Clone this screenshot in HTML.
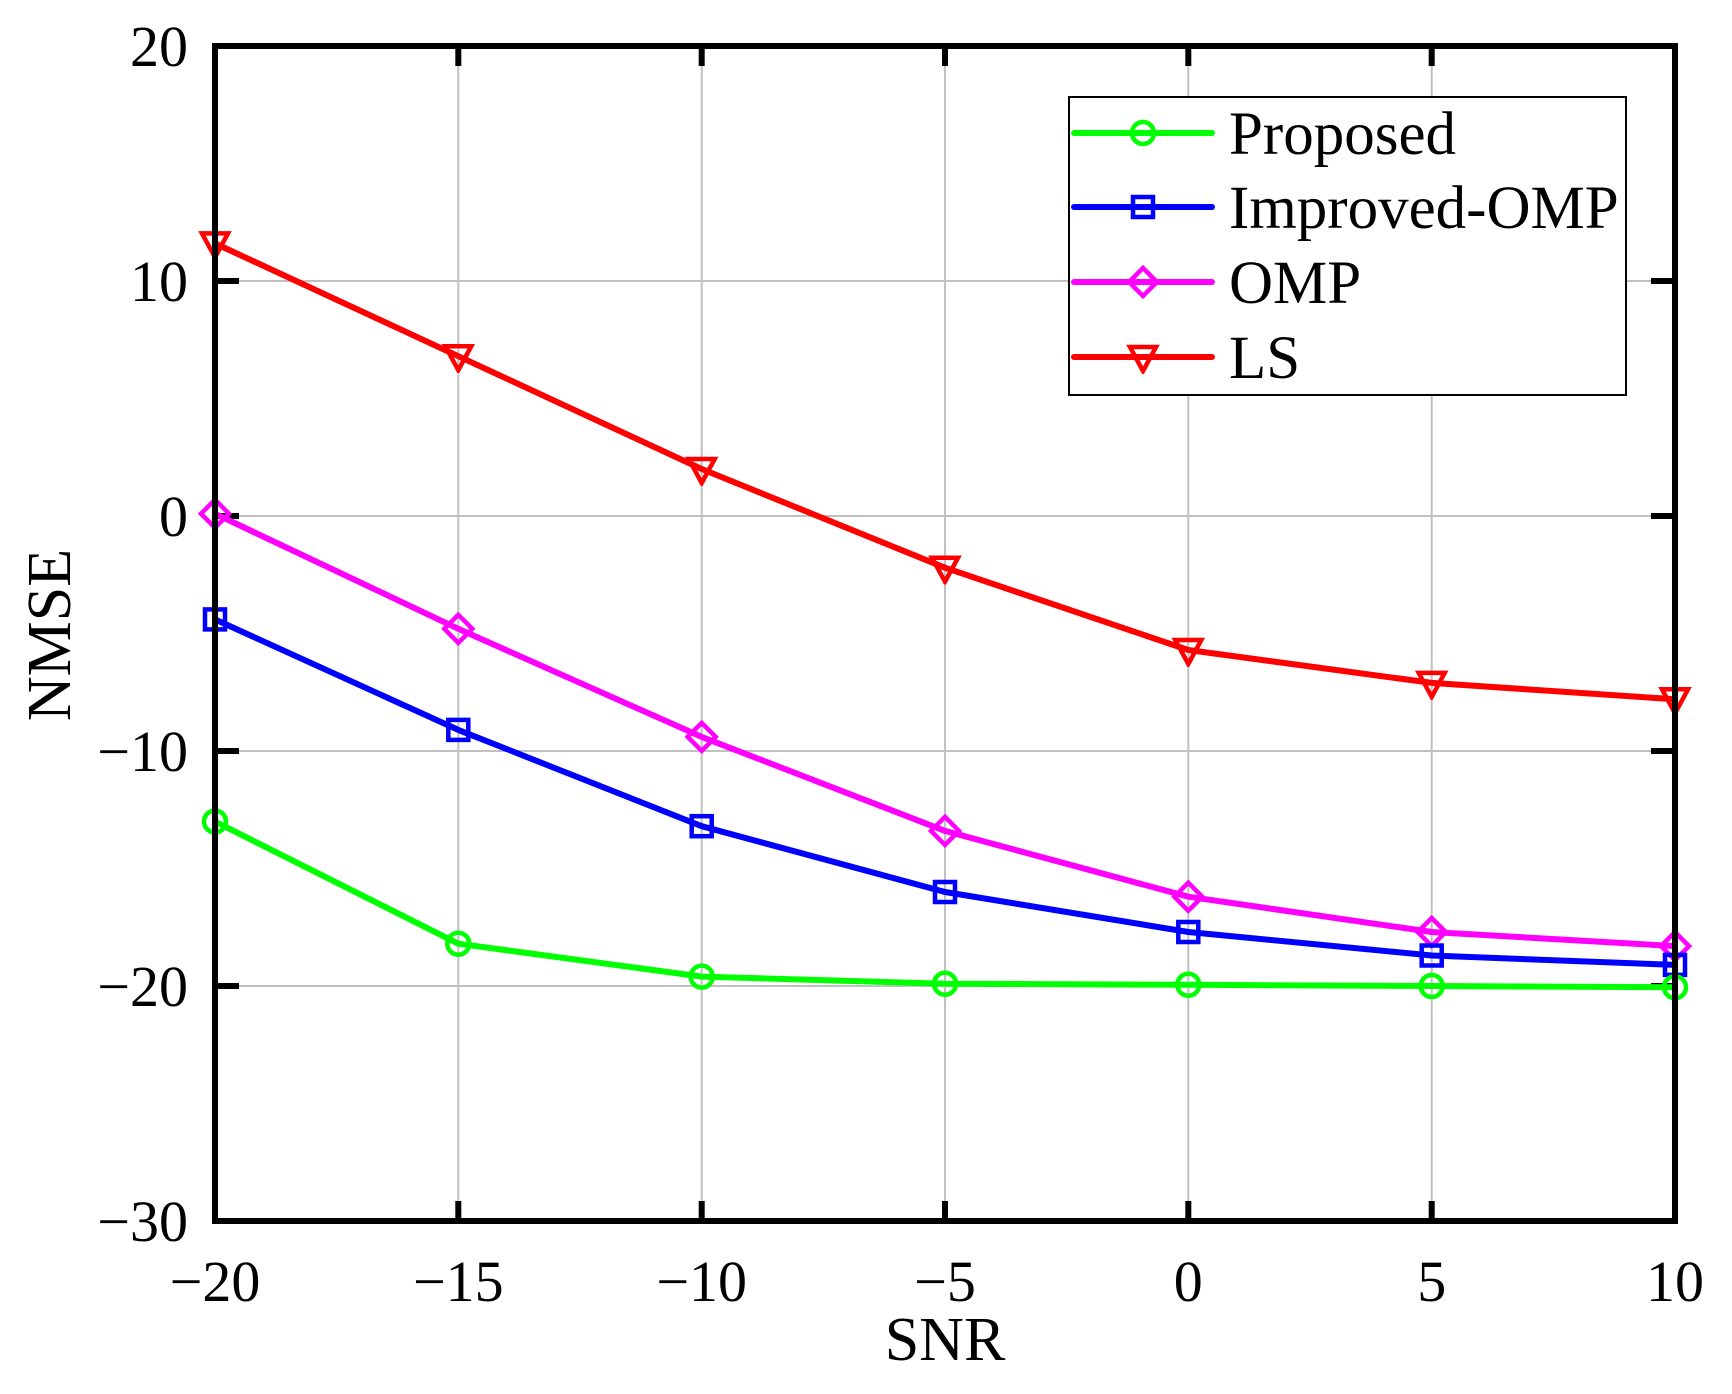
<!DOCTYPE html><html><head><style>body{margin:0;background:#fff}svg{display:block}text{font-family:"Liberation Serif",serif;fill:#000}</style></head><body>
<svg width="1732" height="1394" viewBox="0 0 1732 1394" xmlns="http://www.w3.org/2000/svg">
<g stroke="#c0c0c0" stroke-width="2">
<line x1="458.3" y1="46" x2="458.3" y2="1221"/><line x1="701.7" y1="46" x2="701.7" y2="1221"/><line x1="945" y1="46" x2="945" y2="1221"/><line x1="1188.3" y1="46" x2="1188.3" y2="1221"/><line x1="1431.7" y1="46" x2="1431.7" y2="1221"/>
<line x1="215" y1="281" x2="1675" y2="281"/><line x1="215" y1="516" x2="1675" y2="516"/><line x1="215" y1="751" x2="1675" y2="751"/><line x1="215" y1="986" x2="1675" y2="986"/>
</g>
<g stroke="#000" stroke-width="6">
<path d="M458.3 1221v-20M701.7 1221v-20M945 1221v-20M1188.3 1221v-20M1431.7 1221v-20M458.3 46v20M701.7 46v20M945 46v20M1188.3 46v20M1431.7 46v20"/>
<path d="M215 281h24M215 516h24M215 751h24M215 986h24M1675 281h-24M1675 516h-24M1675 751h-24M1675 986h-24"/>
</g>
<defs>
<marker id="c" viewBox="-15 -15 30 30" markerWidth="30" markerHeight="30" markerUnits="userSpaceOnUse"><circle r="11" fill="none" stroke="#0f0" stroke-width="4.5"/></marker>
<marker id="s" viewBox="-15 -15 30 30" markerWidth="30" markerHeight="30" markerUnits="userSpaceOnUse"><rect x="-10" y="-10" width="20" height="20" fill="none" stroke="#00f" stroke-width="4.5"/></marker>
<marker id="d" viewBox="-17 -17 34 34" markerWidth="34" markerHeight="34" markerUnits="userSpaceOnUse"><path d="M0-14L14 0L0 14L-14 0Z" fill="none" stroke="#f0f" stroke-width="4.5"/></marker>
<marker id="t" viewBox="-17 -17 34 34" markerWidth="34" markerHeight="34" markerUnits="userSpaceOnUse"><path d="M-13-10H13L0 14Z" fill="none" stroke="#f00" stroke-width="4.5"/></marker>
</defs>
<g fill="none" stroke-width="6" stroke-linejoin="round">
<polyline stroke="#f00" marker-start="url(#t)" marker-mid="url(#t)" marker-end="url(#t)" points="215,243.4 458.3,356.2 701.7,469 945,567.7 1188.3,650 1431.7,682.9 1675,699.3"/>
<polyline stroke="#f0f" marker-start="url(#d)" marker-mid="url(#d)" marker-end="url(#d)" points="215,513.7 458.3,628.8 701.7,736.9 945,830.9 1188.3,896.7 1431.7,932 1675,946.1"/>
<polyline stroke="#00f" marker-start="url(#s)" marker-mid="url(#s)" marker-end="url(#s)" points="215,619.4 458.3,729.9 701.7,826.2 945,892 1188.3,932 1431.7,955.5 1675,964.9"/>
<polyline stroke="#0f0" marker-start="url(#c)" marker-mid="url(#c)" marker-end="url(#c)" points="215,821.5 458.3,943.7 701.7,976.6 945,983.7 1188.3,984.8 1431.7,986 1675,987.2"/>
</g>
<rect x="215" y="46" width="1460" height="1175" fill="none" stroke="#000" stroke-width="6"/>
<rect x="1069" y="97" width="557" height="298" fill="#fff" stroke="#000" stroke-width="2"/>
<g stroke-width="6" fill="none" stroke-linecap="round">
<polyline points="1074,133 1143,133 1212,133" stroke="#0f0" marker-mid="url(#c)"/>
<polyline points="1074,207 1143,207 1212,207" stroke="#00f" marker-mid="url(#s)"/>
<polyline points="1074,282 1143,282 1212,282" stroke="#f0f" marker-mid="url(#d)"/>
<polyline points="1074,357 1143,357 1212,357" stroke="#f00" marker-mid="url(#t)"/>
</g>
<g font-size="61">
<text x="1229" y="154">Proposed</text><text x="1229" y="228">Improved-OMP</text><text x="1229" y="303">OMP</text><text x="1229" y="378">LS</text>
</g>
<g font-size="58" text-anchor="end">
<text x="188" y="66">20</text><text x="188" y="301">10</text><text x="188" y="536">0</text><text x="188" y="771">−10</text><text x="188" y="1006">−20</text><text x="188" y="1241">−30</text>
</g>
<g font-size="58" text-anchor="middle">
<text x="215" y="1301">−20</text><text x="458.3" y="1301">−15</text><text x="701.7" y="1301">−10</text><text x="945" y="1301">−5</text><text x="1188.3" y="1301">0</text><text x="1431.7" y="1301">5</text><text x="1675" y="1301">10</text>
<text x="945" y="1360" font-size="62">SNR</text>
<text transform="translate(70,635) rotate(-90)" font-size="62">NMSE</text>
</g>
</svg></body></html>
